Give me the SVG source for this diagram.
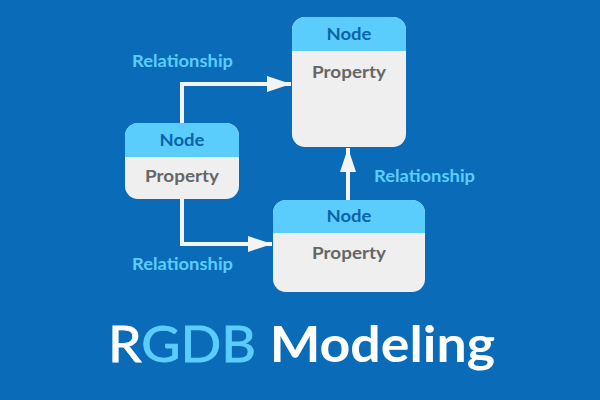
<svg xmlns="http://www.w3.org/2000/svg" width="600" height="400" viewBox="0 0 600 400">
<defs>
<style>
.bg{fill:#0a6cb9}
.body{fill:#efefef}
.head{fill:#5bcdfc}
.nt{font-family:Lato,"Liberation Sans",sans-serif;font-weight:bold;font-size:17px;fill:#0a64ab;text-anchor:middle}
.pt{font-family:Lato,"Liberation Sans",sans-serif;font-weight:bold;font-size:17.5px;fill:#666;text-anchor:middle}
.rl{font-family:Lato,"Liberation Sans",sans-serif;font-weight:bold;font-size:17px;fill:#5bcdfc}
.ln{fill:none;stroke:#f4f4f4;stroke-width:4}
.title{font-family:Lato,"Liberation Sans",sans-serif;font-size:50px;fill:#fff}
</style>
<marker id="ah" markerWidth="6" markerHeight="4" refX="6" refY="2" orient="auto" markerUnits="strokeWidth">
<path d="M0,0 L6,2 L0,4 Z" fill="#f4f4f4"/>
</marker>
<clipPath id="c1"><rect x="292" y="17" width="114" height="130" rx="13"/></clipPath>
<clipPath id="c2"><rect x="125" y="123" width="114" height="76" rx="13"/></clipPath>
<clipPath id="c3"><rect x="273" y="200" width="152" height="92" rx="13"/></clipPath>
</defs>
<rect class="bg" x="0" y="0" width="600" height="400"/>
<g id="connectors">
<path class="ln" d="M182,123 V84 H291" marker-end="url(#ah)"/>
<path class="ln" d="M182,199 V244 H272" marker-end="url(#ah)"/>
<path class="ln" d="M348,200 V148" marker-end="url(#ah)"/>
<text class="rl" x="132" y="67" textLength="101" lengthAdjust="spacingAndGlyphs">Relationship</text>
<text class="rl" x="132" y="270" textLength="101" lengthAdjust="spacingAndGlyphs">Relationship</text>
<text class="rl" x="374" y="182" textLength="101" lengthAdjust="spacingAndGlyphs">Relationship</text>
</g>
<g id="node1" clip-path="url(#c1)">
<rect class="body" x="292" y="17" width="114" height="130"/>
<rect class="head" x="292" y="17" width="114" height="34"/>
<text class="nt" x="349" y="40" textLength="45" lengthAdjust="spacingAndGlyphs">Node</text>
<text class="pt" x="349" y="78" textLength="74" lengthAdjust="spacingAndGlyphs">Property</text>
</g>
<g id="node2" clip-path="url(#c2)">
<rect class="body" x="125" y="123" width="114" height="76"/>
<rect class="head" x="125" y="123" width="114" height="34"/>
<text class="nt" x="182" y="146" textLength="45" lengthAdjust="spacingAndGlyphs">Node</text>
<text class="pt" x="182" y="182" textLength="74" lengthAdjust="spacingAndGlyphs">Property</text>
</g>
<g id="node3" clip-path="url(#c3)">
<rect class="body" x="273" y="200" width="152" height="92"/>
<rect class="head" x="273" y="200" width="152" height="33"/>
<text class="nt" x="349" y="222" textLength="45" lengthAdjust="spacingAndGlyphs">Node</text>
<text class="pt" x="349" y="259" textLength="74" lengthAdjust="spacingAndGlyphs">Property</text>
</g>
<text class="title" x="108" y="362" textLength="387" lengthAdjust="spacingAndGlyphs"><tspan stroke="#fff" stroke-width="0.8">R</tspan><tspan fill="#5bcdfc" stroke="#5bcdfc" stroke-width="0.8">GDB</tspan> <tspan font-weight="bold">Modeling</tspan></text>
</svg>
